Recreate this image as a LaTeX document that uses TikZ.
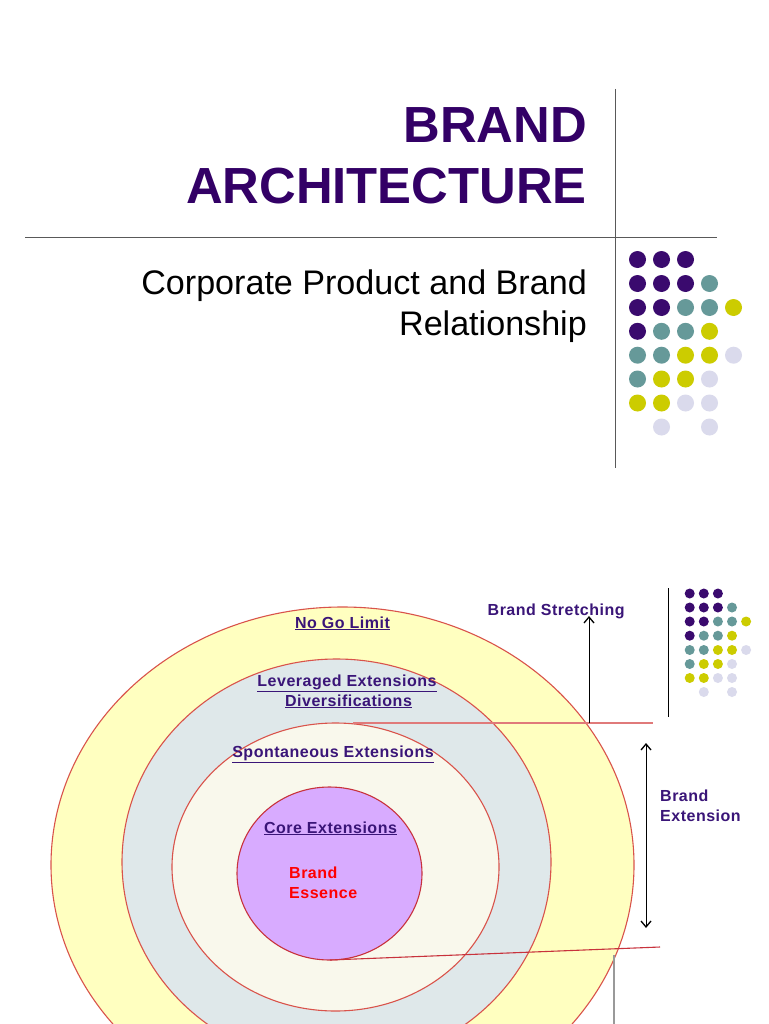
\documentclass[tikz,border=0pt]{standalone}
\usepackage{fontspec}
\setmainfont{Liberation Sans}
\newfontfamily\lblfont[LetterSpace=3.2]{Liberation Sans}
\usetikzlibrary{arrows.meta}
\definecolor{ttl}{HTML}{330066}
\definecolor{lbl}{HTML}{3A1578}
\definecolor{dp}{HTML}{3A0A6E}
\definecolor{dt}{HTML}{669999}
\definecolor{dy}{HTML}{CCCC00}
\definecolor{dl}{HTML}{DADAEC}
\definecolor{redl}{HTML}{D9534B}
\definecolor{redm}{HTML}{E07A7A}
\definecolor{redd}{HTML}{C8323C}
\tikzset{
 x=1pt,y=-1pt,
 ring/.style={draw=redl,line width=1.1pt},
 rule/.style={draw=black!65,line width=1pt},
 arr/.style={draw=black,line width=1pt},
 barb/.style={-{Straight Barb[length=6pt,width=10pt,line width=1.3pt]}},
 lab/.style={text=lbl,font=\lblfont\fontsize{16}{20.5}\selectfont\bfseries,inner sep=0pt,align=center,anchor=base},
 big/.style={inner sep=0pt,anchor=base east,align=right},
}
\begin{document}
\begin{tikzpicture}
\useasboundingbox (0,0) rectangle (768,1024);
\clip (0,0) rectangle (768,1024);
\fill[white] (0,0) rectangle (768,1024);
% title
\node[big,text=ttl,font=\fontsize{50.8}{60}\selectfont\bfseries] (t1) at (587,143) {BRAND};
\node[big,text=ttl,font=\fontsize{50.8}{60}\selectfont\bfseries] (t2) at (587,204) {ARCHITECTURE};
\node[big,font=\fontsize{34.1}{40}\selectfont] (s1) at (587,294) {Corporate Product and Brand};
\node[big,font=\fontsize{34.1}{40}\selectfont] (s2) at (587,335) {Relationship};
\coordinate (rl) at (25,237); \coordinate (rr) at (717,237);
\coordinate (vt) at (615,89); \coordinate (vb) at (615,468);
\draw[rule] (rl)--(rr);
\draw[rule] (vt)--(vb);
% large dots
\foreach \y/\l in {259.5/{0/dp,1/dp,2/dp},283.5/{0/dp,1/dp,2/dp,3/dt},307.5/{0/dp,1/dp,2/dt,3/dt,4/dy},331.3/{0/dp,1/dt,2/dt,3/dy},355.2/{0/dt,1/dt,2/dy,3/dy,4/dl},379/{0/dt,1/dy,2/dy,3/dl},403/{0/dy,1/dy,2/dl,3/dl},427/{1/dl,3/dl}}{
 \foreach \i/\c in \l {\fill[\c] ({637.5+\i*24},\y) circle[radius=8.5];}}
% small dots
\foreach \y/\l in {593.5/{0/dp,1/dp,2/dp},607.5/{0/dp,1/dp,2/dp,3/dt},621.5/{0/dp,1/dp,2/dt,3/dt,4/dy},635.7/{0/dp,1/dt,2/dt,3/dy},650/{0/dt,1/dt,2/dy,3/dy,4/dl},664/{0/dt,1/dy,2/dy,3/dl},678/{0/dy,1/dy,2/dl,3/dl},692/{1/dl,3/dl}}{
 \foreach \i/\c in \l {\fill[\c] ({689.7+\i*14.1},\y) circle[radius=5];}}
% ellipses
\filldraw[ring,fill={rgb,255:red,255;green,255;blue,192}] (342.5,865) ellipse[x radius=291.5,y radius=258];
\filldraw[ring,fill={rgb,255:red,223;green,232;blue,234}] (336.5,862) ellipse[x radius=214.5,y radius=203];
\filldraw[ring,fill={rgb,255:red,249;green,248;blue,236}] (335.5,867) ellipse[x radius=163.5,y radius=144];
\filldraw[ring,draw=redd,fill={rgb,255:red,216;green,171;blue,255}] (329.5,873.5) ellipse[x radius=92.5,y radius=86.5];
% connectors
\coordinate (r1a) at (353,723); \coordinate (r1b) at (653,723);
\coordinate (r2a) at (330,960); \coordinate (r2b) at (660,947);
\draw[draw=redm,line width=1.2pt] (r1a)--(r1b);
\draw[draw=redd,line width=1.1pt] (r2a)--(r2b);
\coordinate (a1a) at (589,723); \coordinate (a1b) at (589,616);
\draw[arr,barb] (a1a)--(a1b);
\coordinate (a2a) at (646,743); \coordinate (a2b) at (646,928);
\draw[arr,{Straight Barb[length=6pt,width=10pt,line width=1.3pt]}-{Straight Barb[length=6pt,width=10pt,line width=1.3pt]}] (a2a)--(a2b);
\coordinate (g1) at (614,955); \coordinate (g2) at (614,1024);
\draw[draw=black!40,line width=1.4pt] (g1)--(g2);
\coordinate (v2a) at (668.5,588); \coordinate (v2b) at (668.5,717);
\draw[draw=black,line width=1pt] (v2a)--(v2b);
% labels
\node[lab] (l1) at (342.5,628) {\underline{No Go Limit}};
\node[lab] (l2) at (347,686) {\underline{Leveraged Extensions}};
\node[lab] (l3) at (348.5,706) {\underline{Diversifications}};
\node[lab] (l4) at (333,757) {\underline{Spontaneous Extensions}};
\node[lab] (l5) at (330.5,833) {\underline{Core Extensions}};
\node[lab,text=red,anchor=base west] (l6) at (289,878) {Brand};
\node[lab,text=red,anchor=base west] (l7) at (289,898) {Essence};
\node[lab,anchor=base west] (l8) at (487.5,615) {Brand Stretching};
\node[lab,anchor=base west] (l9) at (660,801) {Brand};
\node[lab,anchor=base west] (l10) at (660,821) {Extension};
\end{tikzpicture}
\end{document}
